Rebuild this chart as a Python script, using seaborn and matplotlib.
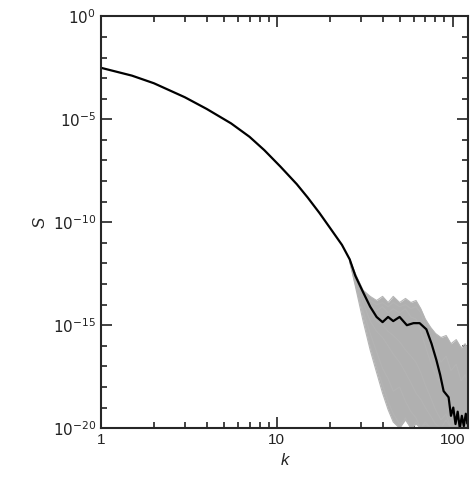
import numpy as np
import matplotlib
matplotlib.use("Agg")
import matplotlib.pyplot as plt
import seaborn as sns
from matplotlib.ticker import LogLocator, FixedLocator, NullFormatter

sns.set_style("ticks")
plt.rcParams['font.family'] = ['Liberation Sans', 'DejaVu Sans']

# mean spectrum (black)
k_mean = [1, 1.5, 2, 3, 4, 5.5, 7, 8.5, 10.5, 13, 15, 17.5, 20, 23.5, 26, 28, 31, 34, 37, 40, 43, 46,
          50, 55, 60, 65, 71, 76, 81, 85, 89, 95, 98, 101, 104, 107, 110, 113, 116, 119, 122, 123]
logS_mean = [-2.5, -2.88, -3.25, -3.93, -4.5, -5.2, -5.85, -6.5, -7.3, -8.15, -8.8, -9.55, -10.25,
             -11.1, -11.8, -12.6, -13.4, -14.1, -14.6, -14.85, -14.6, -14.8, -14.6, -15.0, -14.9,
             -14.9, -15.2, -15.9, -16.7, -17.4, -18.2, -18.5, -19.4, -19.0, -19.8, -19.2, -20.0,
             -19.4, -19.9, -19.3, -19.8, -19.6]

# ensemble members (grey), k and log10 S
k_ens = [26, 28, 31, 34, 37, 40, 43, 46, 50, 54, 58, 62, 66, 70, 75, 80, 86, 92, 98, 105, 112, 118, 123]
ens_members = [
    [-11.8, -12.5, -13.3, -13.6, -13.8, -13.6, -13.9, -13.6, -13.9, -13.7, -13.9, -13.8, -14.2, -14.7, -15.1, -15.4, -15.6, -15.5, -15.9, -15.7, -16.1, -15.9, -16.2],
    [-11.8, -12.6, -13.5, -14.0, -14.3, -14.1, -14.4, -14.2, -14.4, -14.2, -14.6, -14.7, -15.3, -16.0, -16.8, -17.4, -17.9, -18.4, -18.9, -19.3, -19.5, -20.0, -19.7],
    [-11.9, -12.8, -13.9, -14.8, -15.3, -15.6, -16.0, -16.4, -16.8, -17.3, -17.8, -18.3, -18.6, -19.0, -19.4, -19.8, -20.0, -19.6, -20.0, -19.8, -20.0, -19.7, -20.0],
    [-11.9, -13.0, -14.5, -16.0, -17.0, -17.9, -18.7, -19.3, -19.8, -19.6, -20.0, -19.7, -20.0, -19.8, -20.0, -20.0, -20.0, -20.0, -20.0, -20.0, -20.0, -20.0, -20.0],
    [-11.9, -13.1, -14.8, -16.2, -17.3, -18.3, -19.1, -19.7, -20.0, -19.5, -20.0, -19.8, -20.0, -20.0, -20.0, -20.0, -20.0, -20.0, -20.0, -20.0, -20.0, -20.0, -20.0],
    [-11.8, -12.6, -13.6, -14.3, -14.8, -15.0, -15.3, -15.5, -15.8, -16.2, -16.5, -16.8, -17.3, -17.9, -18.5, -19.1, -19.6, -19.3, -20.0, -19.7, -20.0, -20.0, -20.0],
    [-11.8, -12.5, -13.4, -13.8, -14.0, -13.9, -14.1, -13.9, -14.1, -14.0, -14.2, -14.1, -14.4, -15.0, -15.6, -16.2, -16.8, -16.5, -17.2, -16.9, -17.7, -17.4, -17.9],
    [-11.9, -12.9, -14.3, -15.4, -16.3, -17.1, -17.6, -18.2, -18.0, -18.7, -19.2, -19.5, -20.0, -19.7, -20.0, -20.0, -20.0, -20.0, -20.0, -20.0, -20.0, -20.0, -20.0],
]

fig = plt.figure(figsize=(4.74, 4.80), dpi=100)
ax = fig.add_axes([0.213, 0.108, 0.775, 0.858])

ens = np.array(ens_members)
ax.fill_between(k_ens, 10.0 ** ens.min(axis=0), 10.0 ** ens.max(axis=0), color="#b0b0b0", lw=0)
for m in ens_members:
    sns.lineplot(x=k_ens, y=10.0 ** np.array(m), ax=ax, color="#b4b4b4", lw=0.8)
sns.lineplot(x=k_mean, y=10.0 ** np.array(logS_mean), ax=ax, color="black", lw=1.6)

ax.set_xscale("log")
ax.set_yscale("log")
ax.set_xlim(1, 123)
ax.set_ylim(1e-20, 1)
ax.yaxis.set_major_locator(FixedLocator([1e-20, 1e-15, 1e-10, 1e-5, 1]))
ax.yaxis.set_minor_locator(FixedLocator([10.0 ** -i for i in range(21)]))
ax.yaxis.set_minor_formatter(NullFormatter())
ax.set_yticklabels([r"$10^{-20}$", r"$10^{-15}$", r"$10^{-10}$", r"$10^{-5}$", r"$10^{0}$"])
ax.xaxis.set_major_locator(FixedLocator([1, 10, 100]))
ax.set_xticklabels(["1", "10", "100"])
ax.xaxis.set_minor_locator(LogLocator(subs=np.arange(2, 10)))
ax.xaxis.set_minor_formatter(NullFormatter())
ax.tick_params(which="both", direction="in", top=True, right=True, labelsize=11, width=1.2, colors="#222222")
ax.tick_params(which="major", length=8)
ax.tick_params(which="minor", length=4)
for s in ax.spines.values():
    s.set_linewidth(1.5)
ax.set_xlabel("k", fontstyle="italic", fontsize=12)
ax.set_ylabel("S", fontstyle="italic", fontsize=12)
fig.savefig("out.png", dpi=100)
